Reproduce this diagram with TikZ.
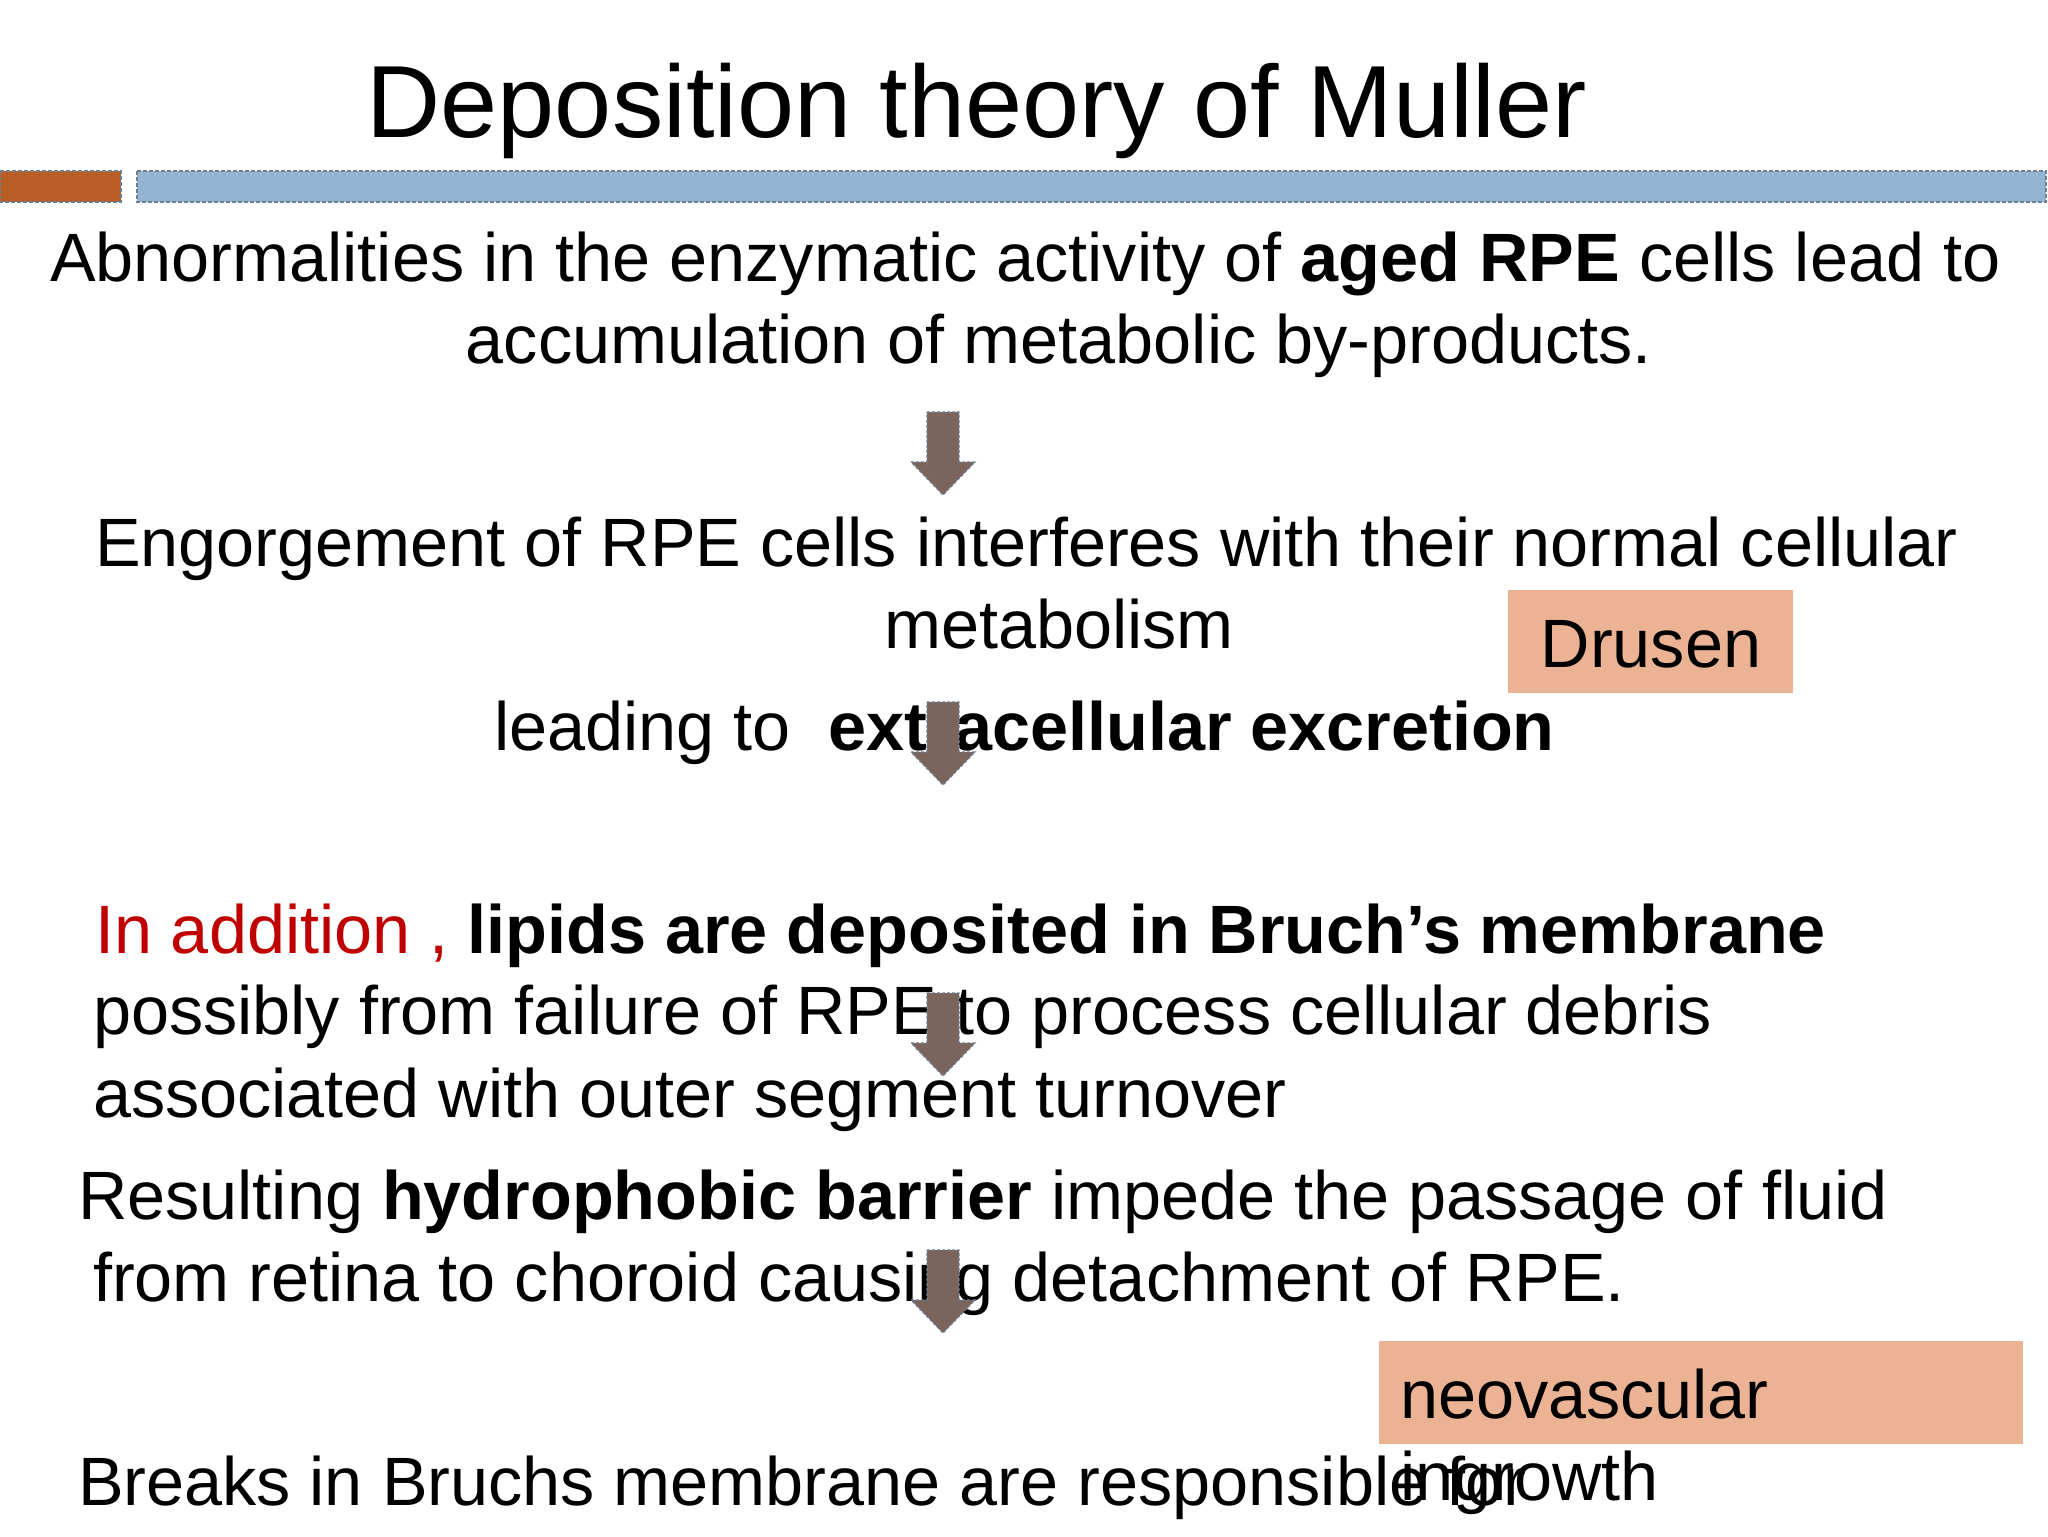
\documentclass[tikz,border=0pt]{standalone}
\usepackage{fontspec}
\setmainfont{Liberation Sans}
\definecolor{barorange}{HTML}{B85D24}
\definecolor{barblue}{HTML}{94B4D2}
\definecolor{baredge}{HTML}{6E7F93}
\definecolor{arrfill}{HTML}{7A645B}
\definecolor{boxfill}{HTML}{EBB393}
\definecolor{addred}{HTML}{C00000}
\tikzset{
  body/.style={inner sep=0pt, outer sep=0pt, font=\fontsize{34.2}{40}\selectfont},
  ttl/.style={inner sep=0pt, font=\fontsize{51.3}{60}\selectfont},
  hbar/.style={draw=baredge, line width=0.8pt, dash pattern=on 2pt off 1pt},
  blockarr/.style={fill=arrfill, draw=baredge, line width=0.6pt, dash pattern=on 1.5pt off 1pt},
  downarrow/.pic={\path[blockarr] (-16,0) -- (16,0) -- (16,50) -- (32,50) -- (0,83) -- (-32,50) -- (-16,50) -- cycle;},
  tagbox/.style={fill=boxfill, draw=none}
}
\begin{document}
\begin{tikzpicture}[x=0.5pt,y=-0.5pt]
\useasboundingbox[fill=white] (0,0) rectangle (2048,1536);
% header bars
\path[hbar, fill=barorange] (0,171) rectangle (121,202);
\path[hbar, fill=barblue] (137,171) rectangle (2046,202);
% title
\node[ttl, anchor=base] (title) at (977,137) {Deposition theory of Muller};
% text
\node[body, anchor=base west] (l1) at (50,281) {Abnormalities in the enzymatic activity of \textbf{aged RPE} cells lead to};
\node[body, anchor=base] (l2) at (1059,363) {accumulation of metabolic by-products.};
\node[body, anchor=base west] (l3) at (95,566) {Engorgement of RPE cells interferes with their normal cellular};
\node[body, anchor=base] (l4) at (1059,648) {metabolism};
\node[body, anchor=base west] (l5) at (494,750) {leading to\ \ \textbf{extracellular excretion}};
\node[body, anchor=base west] (l6) at (95,953) {\textcolor{addred}{In addition ,} \textbf{lipids are deposited in Bruch’s membrane}};
\node[body, anchor=base west] (l7) at (93,1034) {possibly from failure of RPE to process cellular debris};
\node[body, anchor=base west] (l8) at (93,1117) {associated with outer segment turnover};
\node[body, anchor=base west] (l9) at (78,1219) {Resulting \textbf{hydrophobic barrier} impede the passage of fluid};
\node[body, anchor=base west] (l10) at (93,1301) {from retina to choroid causing detachment of RPE.};
\node[body, anchor=base west] (l11) at (78,1505) {Breaks in Bruchs membrane are responsible for};
% tag boxes
\path[tagbox] (1508,590) rectangle (1793,693);
\node[body, anchor=base] (drusen) at (1651,667) {Drusen};
\path[tagbox] (1379,1341) rectangle (2023,1444);
\node[body, anchor=base west] (neo) at (1400,1418) {neovascular};
\node[body, anchor=base west] (ingrowth) at (1400,1500) {ingrowth};
% block arrows
\pic at (943,412) {downarrow};
\pic at (943,702) {downarrow};
\pic at (943,993) {downarrow};
\pic at (943,1250) {downarrow};
\end{tikzpicture}
\end{document}
